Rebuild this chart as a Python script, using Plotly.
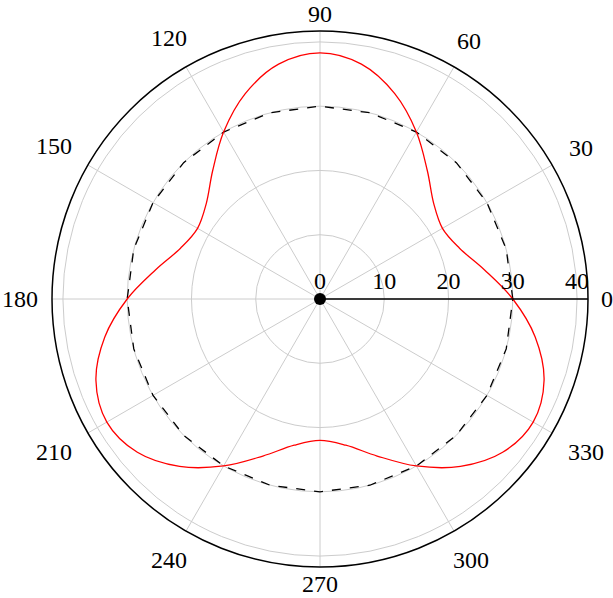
import numpy as np
import plotly.graph_objects as go

# angles (degrees) and radii
theta_deg = list(range(0, 361, 10))
r_red = [30, 26, 23.1, 22, 23.1, 26, 30, 34, 37.1, 38.3, 37.1, 34,
         30, 26, 23.1, 22, 23.1, 26, 30, 34, 37.1, 38.3, 37.1, 34,
         30, 26, 23.1, 22, 23.1, 26, 30, 34, 37.1, 38.3, 37.1, 34, 30]

# dashed reference circle (drawn as a coarse polygon)
theta_dash = list(range(0, 361, 15))
r_dash = [30] * len(theta_dash)

radial_ticks = [0, 10, 20, 30, 40]
angle_ticks = list(range(0, 360, 30))

W, H = 613, 598
CX, CY, R_PX = 320, 299, 268   # polar centre and rim radius, px from top-left
R_MAX = 41.7                   # outer radius in data units

font_main = dict(family="Liberation Serif, DejaVu Serif, serif", size=24, color="black")


def label_offset(angle, text):
    """Distance (px) from centre to an angular label, pgfplots style:
    the label box just clears the rim."""
    a = 6.25 * len(text) + 4      # half width of the label box
    b = 8                         # half height (kept small so 90/270 stay on the page)
    t = np.radians(angle)
    return 277 + a * abs(np.cos(t)) + b * abs(np.sin(t)) + 7 * abs(np.sin(2 * t))


fig = go.Figure()

fig.add_trace(go.Scatterpolar(
    r=r_dash, theta=theta_dash, mode='lines',
    line=dict(color='black', width=1.3, dash='dash'),
    showlegend=False
))

fig.add_trace(go.Scatterpolar(
    r=r_red, theta=theta_deg, mode='lines',
    line=dict(color='red', width=1.3, shape='spline'),
    showlegend=False
))

fig.add_trace(go.Scatterpolar(
    r=[0], theta=[0], mode='markers',
    marker=dict(color='black', size=12),
    showlegend=False
))

# angular tick labels outside the rim
for ang in angle_ticks:
    txt = str(ang)
    d = label_offset(ang, txt)
    t = np.radians(ang)
    fig.add_annotation(
        x=(CX + d * np.cos(t)) / W, y=1 - (CY - d * np.sin(t)) / H,
        xref='paper', yref='paper', text=txt, showarrow=False,
        xanchor='center', yanchor='middle', font=font_main,
    )

fig.update_layout(
    width=W, height=H,
    margin=dict(l=0, r=0, t=0, b=0),
    paper_bgcolor='white',
    font=font_main,
    polar=dict(
        domain=dict(x=[(CX - R_PX) / W, (CX + R_PX) / W],
                    y=[1 - (CY + R_PX) / H, 1 - (CY - R_PX) / H]),
        bgcolor='white',
        radialaxis=dict(
            range=[0, R_MAX],
            tickvals=radial_ticks,
            ticktext=[str(v) for v in radial_ticks],
            angle=0, tickangle=0,
            side='counterclockwise',
            showline=True, linecolor='black', linewidth=1.3,
            gridcolor='#cccccc', gridwidth=1,
            ticks='',
            tickfont=font_main,
        ),
        angularaxis=dict(
            tickvals=angle_ticks,
            showticklabels=False,
            direction='counterclockwise', rotation=0,
            showline=True, linecolor='black', linewidth=1.5,
            gridcolor='#cccccc', gridwidth=1,
            ticks='',
        ),
    ),
)

# drop the default body margin so the figure sits at the page corner
fig.write_html("out.html", config={'displayModeBar': False},
               post_script="document.body.style.margin='0';")
